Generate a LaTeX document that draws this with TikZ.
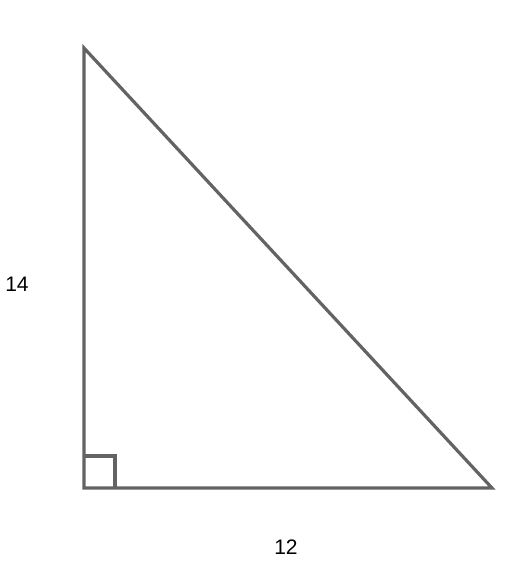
\documentclass[tikz,border=0pt]{standalone}
\usepackage{fontspec}
\setmainfont{Liberation Sans}
\definecolor{edge}{HTML}{636363}
\begin{document}
\begin{tikzpicture}[x=1pt,y=-1pt,
  side/.style={draw=edge,line width=3.2pt,line join=miter},
  lbl/.style={font=\fontsize{21}{24}\selectfont,text=black,inner sep=0pt}]
\useasboundingbox (0,0) rectangle (530,582);
\coordinate (A) at (84,48);
\coordinate (B) at (84,488);
\coordinate (C) at (492,488);
\draw[side] (A) -- (B) -- (C) -- cycle;
\coordinate (S1) at (84,456);
\coordinate (S2) at (115,456);
\coordinate (S3) at (115,488);
\draw[side] (S1) -- (S2) -- (S3);
\node[lbl] (l14) at (17,284) {14};
\node[lbl] (l12) at (286,547) {12};
\end{tikzpicture}
\end{document}
